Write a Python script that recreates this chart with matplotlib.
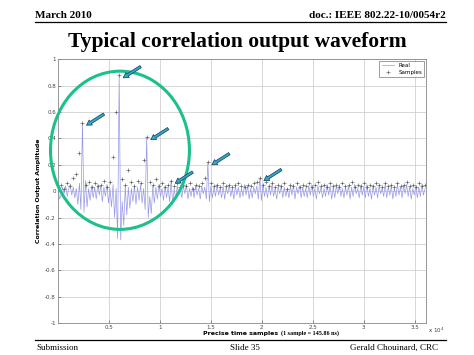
import matplotlib
matplotlib.use("Agg")
import matplotlib.pyplot as plt
import numpy as np
from matplotlib.patches import Ellipse
from matplotlib.lines import Line2D
from matplotlib.ticker import FormatStrFormatter

# Real part of the correlator output, one value every 150 samples
real_step = 150
real_vals = [
    0.02, -0.06, -0.03, 0.03, -0.02, 0.04, -0.04, 0.02, 0.05, -0.03,
    0.03, -0.05, 0.02, -0.10, 0.06, -0.14, 0.52, -0.16, 0.08, -0.12,
    0.02, -0.07, 0.04, -0.05, 0.03, -0.06, 0.05, -0.03, 0.04, -0.08,
    0.03, -0.04, 0.05, -0.09, 0.02, -0.12, 0.05, -0.20, 0.02, -0.36,
    0.88, -0.37, -0.08, -0.26, 0.04, -0.18, 0.03, -0.13, 0.02, -0.08,
    0.04, -0.10, 0.03, -0.07, 0.05, -0.09, 0.02, -0.14, 0.41, -0.20,
    -0.04, -0.17, 0.04, -0.09, 0.03, -0.06, 0.05, -0.04, 0.02, -0.07,
    0.04, -0.05, 0.03, -0.08, 0.08, -0.10, 0.02, -0.06, 0.04, -0.03,
    0.03, -0.05, 0.04, -0.02, 0.05, -0.06, 0.02, -0.04, 0.03, -0.05,
    0.04, -0.03, 0.02, -0.06, 0.04, -0.02, 0.03, -0.06, 0.22, -0.08,
    0.04, -0.05, 0.03, -0.04, 0.05, -0.03, 0.02, -0.05, 0.04, -0.06,
    0.03, -0.02, 0.05, -0.04, 0.02, -0.06, 0.04, -0.03, 0.03, -0.05,
    0.02, -0.04, 0.05, -0.03, 0.04, -0.06, 0.02, -0.05, 0.03, -0.02,
    0.04, -0.06, 0.10, -0.07, 0.05, -0.04, 0.03, -0.05, 0.04, -0.03,
    0.05, -0.04, 0.02, -0.06, 0.03, -0.02, 0.04, -0.05, 0.03, -0.04,
    0.02, -0.05, 0.04, -0.03, 0.05, -0.06, 0.03, -0.02, 0.04, -0.05,
    0.03, -0.04, 0.02, -0.05, 0.04, -0.03, 0.05, -0.04, 0.02, -0.06,
    0.04, -0.02, 0.03, -0.05, 0.02, -0.04, 0.05, -0.03, 0.04, -0.06,
    0.03, -0.05, 0.04, -0.02, 0.05, -0.04, 0.02, -0.05, 0.03, -0.03,
    0.04, -0.06, 0.03, -0.04, 0.05, -0.02, 0.02, -0.05, 0.04, -0.03,
    0.03, -0.05, 0.05, -0.04, 0.02, -0.06, 0.04, -0.03, 0.03, -0.05,
    0.04, -0.02, 0.02, -0.04, 0.05, -0.05, 0.03, -0.03, 0.04, -0.06,
    0.02, -0.04, 0.05, -0.03, 0.03, -0.05, 0.04, -0.02, 0.05, -0.04,
    0.03, -0.06, 0.02, -0.03, 0.04, -0.05, 0.03, -0.04, 0.05, -0.03,
    0.02,
]

# Sample magnitudes ("+" markers), one every 300 samples
sample_step = 300
sample_vals = [
    0.03, 0.05, 0.02, 0.06, 0.04, 0.10, 0.13, 0.29, 0.52, 0.05,
    0.07, 0.03, 0.06, 0.04, 0.05, 0.08, 0.03, 0.07, 0.26, 0.60,
    0.88, 0.09, 0.05, 0.16, 0.07, 0.04, 0.08, 0.06, 0.24, 0.41,
    0.07, 0.05, 0.09, 0.04, 0.06, 0.03, 0.05, 0.08, 0.04, 0.06,
    0.03, 0.05, 0.04, 0.06, 0.02, 0.05, 0.04, 0.06, 0.10, 0.22,
    0.06, 0.04, 0.05, 0.03, 0.06, 0.04, 0.05, 0.03, 0.05, 0.06,
    0.04, 0.03, 0.05, 0.04, 0.06, 0.07, 0.10, 0.05, 0.07, 0.04,
    0.06, 0.03, 0.05, 0.04, 0.06, 0.02, 0.05, 0.04, 0.06, 0.03,
    0.05, 0.04, 0.06, 0.03, 0.05, 0.07, 0.04, 0.05, 0.03, 0.06,
    0.04, 0.05, 0.03, 0.06, 0.04, 0.05, 0.07, 0.03, 0.05, 0.04,
    0.06, 0.03, 0.05, 0.04, 0.06, 0.05, 0.03, 0.06, 0.04, 0.05,
    0.03, 0.06, 0.04, 0.05, 0.07, 0.04, 0.05, 0.03, 0.06, 0.04,
    0.05,
]

# samples that the arrows point at (multipath peaks)
arrow_at = [8, 20, 29, 37, 49, 66]

xtick_vals = [5000, 10000, 15000, 20000, 25000, 30000, 35000]
xtick_labels = ["0.5", "1", "1.5", "2", "2.5", "3", "3.5"]

W, H = 474, 355
fig = plt.figure(figsize=(W / 100, H / 100), dpi=100)
fig.patch.set_facecolor("white")


def fx(x):
    return x / W


def fy(y):
    return 1 - y / H


serif = ["Liberation Serif", "DejaVu Serif"]

# slide header / footer
fig.text(fx(35), fy(15), "March 2010", family=serif, weight="bold",
         fontsize=8, va="center", ha="left")
fig.text(fx(446), fy(15), "doc.: IEEE 802.22-10/0054r2", family=serif,
         weight="bold", fontsize=8, va="center", ha="right")
fig.add_artist(Line2D([fx(35), fx(446)], [fy(21.5), fy(21.5)], color="black", lw=0.9))
fig.text(fx(237), fy(42), "Typical correlation output waveform", family=serif,
         weight="bold", fontsize=15.5, va="center", ha="center")
fig.add_artist(Line2D([fx(35), fx(446)], [fy(340), fy(340)], color="black", lw=0.9))
fig.text(fx(36), fy(348), "Submission", family=serif, fontsize=6.5, va="center", ha="left")
fig.text(fx(245), fy(348), "Slide 35", family=serif, fontsize=6.5, va="center", ha="center")
fig.text(fx(438), fy(348), "Gerald Chouinard, CRC", family=serif, fontsize=6.5,
         va="center", ha="right")

ax = fig.add_axes([fx(58), fy(323), fx(426) - fx(58), fy(59.3) - fy(323)])

real_x = np.arange(len(real_vals)) * real_step
sample_x = np.arange(len(sample_vals)) * sample_step

ax.plot(real_x, real_vals, color="#9898e6", lw=0.5, label="Real")
ax.plot(sample_x, sample_vals, ls="none", marker="+", ms=2.6, mew=0.45,
        color="#5c5c5c", label="Samples")

ax.set_xlim(0, 36100)
ax.set_ylim(-1, 1)
ax.set_xticks(xtick_vals)
ax.set_xticklabels(xtick_labels)
ax.set_yticks(np.linspace(-1, 1, 11))
ax.yaxis.set_major_formatter(FormatStrFormatter("%g"))
ax.tick_params(direction="in", length=2, width=0.4, labelsize=4, pad=1.5,
               colors="#444444")
ax.grid(True, color="#c8c8c8", lw=0.5)
for s in ax.spines.values():
    s.set_color("#888888")
    s.set_linewidth(0.6)

ax.set_ylabel("Correlation Output Amplitude", fontsize=4.5, weight="bold", labelpad=3)
ax.set_xlabel("Precise time samples", fontsize=4.5, weight="bold")
ax.xaxis.set_label_coords(0.495, -0.03)
fig.text(fx(281), fy(333), "(1 sample = 145.86 ns)", family=serif, weight="bold",
         fontsize=4.4, va="center", ha="left")
fig.text(fx(428), fy(330), r"x 10$^4$", fontsize=4, va="center", ha="left",
         color="#444444")

leg = ax.legend(loc="upper right", fontsize=4, frameon=True, fancybox=False,
                borderpad=0.4, handlelength=2.2, borderaxespad=0.3, labelspacing=0.3)
leg.get_frame().set_edgecolor("#555555")
leg.get_frame().set_linewidth(0.5)

# highlight ellipse round the early multipath cluster
ax.add_patch(Ellipse((6080, 0.31), 13630, 1.20, fill=False, ec="#1dbf8c", lw=2.2,
                     clip_on=False, zorder=5))

# arrows pointing at the peaks
for j in arrow_at:
    ax.annotate("", xy=(sample_x[j] + 400, sample_vals[j] - 0.02),
                xytext=(12.5, 8), textcoords="offset points",
                arrowprops=dict(arrowstyle="simple,head_length=0.6,head_width=0.7,tail_width=0.3",
                                fc="#35a9cc", ec="#1d4f6b", lw=0.6,
                                shrinkA=0, shrinkB=0, mutation_scale=6),
                zorder=6)

fig.savefig("out.png", dpi=100)
